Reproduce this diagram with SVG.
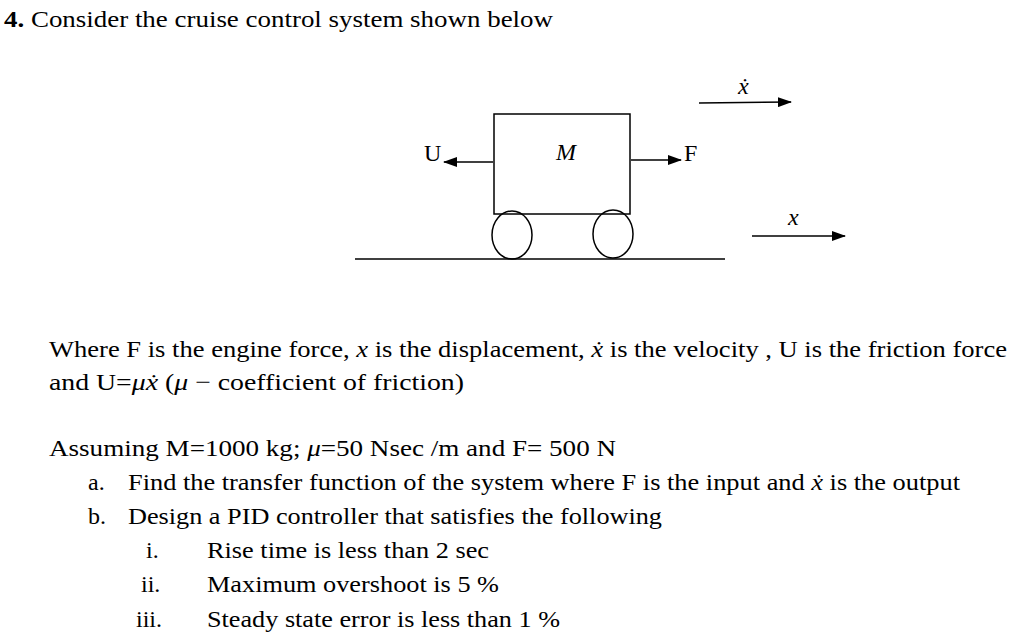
<svg xmlns="http://www.w3.org/2000/svg" width="1011" height="639" viewBox="0 0 1011 639">
<defs><marker id="ah" markerWidth="14" markerHeight="10" refX="13" refY="5" orient="auto" markerUnits="userSpaceOnUse"><path d="M0,0 L14,5 L0,10 Z" fill="#000"/></marker>
<style>text{font-family:"Liberation Serif",serif;font-size:24px;fill:#000}.i{font-style:italic}.l{stroke:#000;stroke-width:1.5;fill:none}</style></defs>
<rect width="1011" height="639" fill="#fff"/>
<text x="4" y="27" textLength="549" lengthAdjust="spacingAndGlyphs"><tspan font-weight="bold">4.</tspan>   Consider the cruise control system shown below</text>
<g id="cart"><rect class="l" x="494" y="114" width="136" height="100" stroke-width="2"/><text class="i" x="556" y="160">M</text></g>
<g id="wheels"><ellipse class="l" cx="512" cy="235" rx="20" ry="24" stroke-width="2"/><ellipse class="l" cx="613" cy="234" rx="20" ry="24" stroke-width="2"/></g>
<g id="ground"><line class="l" x1="355" y1="259" x2="725" y2="259"/></g>
<g id="connectors">
<line class="l" x1="493" y1="162" x2="444" y2="162" marker-end="url(#ah)"/>
<line class="l" x1="631" y1="160" x2="681" y2="160" marker-end="url(#ah)"/>
<line class="l" x1="699" y1="103" x2="791" y2="102" marker-end="url(#ah)"/>
<line class="l" x1="752" y1="236" x2="845" y2="236" marker-end="url(#ah)"/>
</g>
<text x="424" y="161">U</text><text x="684" y="161">F</text>
<text class="i" x="738" y="94">ẋ</text><text class="i" x="788" y="225">x</text>
<text x="49" y="357" textLength="958" lengthAdjust="spacingAndGlyphs">Where F is the engine force,  <tspan class="i">x</tspan> is the displacement, <tspan class="i">ẋ</tspan> is the velocity , U is the friction force</text>
<text x="49" y="390" textLength="415" lengthAdjust="spacingAndGlyphs">and   U=<tspan class="i">μẋ</tspan> (<tspan class="i">μ</tspan> − coefficient of friction)</text>
<text x="49" y="456" textLength="567" lengthAdjust="spacingAndGlyphs">Assuming  M=1000 kg; <tspan class="i">μ</tspan>=50 Nsec /m  and F= 500 N</text>
<text x="88" y="490">a.</text><text x="128" y="490" textLength="832" lengthAdjust="spacingAndGlyphs">Find the transfer function of the system where F is the input and <tspan class="i">ẋ</tspan> is the output</text>
<text x="88" y="524">b.</text><text x="128" y="524" textLength="534" lengthAdjust="spacingAndGlyphs">Design a PID controller that satisfies the following</text>
<text x="146" y="558">i.</text><text x="207" y="558" textLength="282" lengthAdjust="spacingAndGlyphs">Rise time is less than 2 sec</text>
<text x="141" y="592">ii.</text><text x="207" y="592" textLength="292" lengthAdjust="spacingAndGlyphs">Maximum overshoot is 5 %</text>
<text x="136" y="627">iii.</text><text x="207" y="627" textLength="353" lengthAdjust="spacingAndGlyphs">Steady state error is less than 1 %</text>
</svg>
